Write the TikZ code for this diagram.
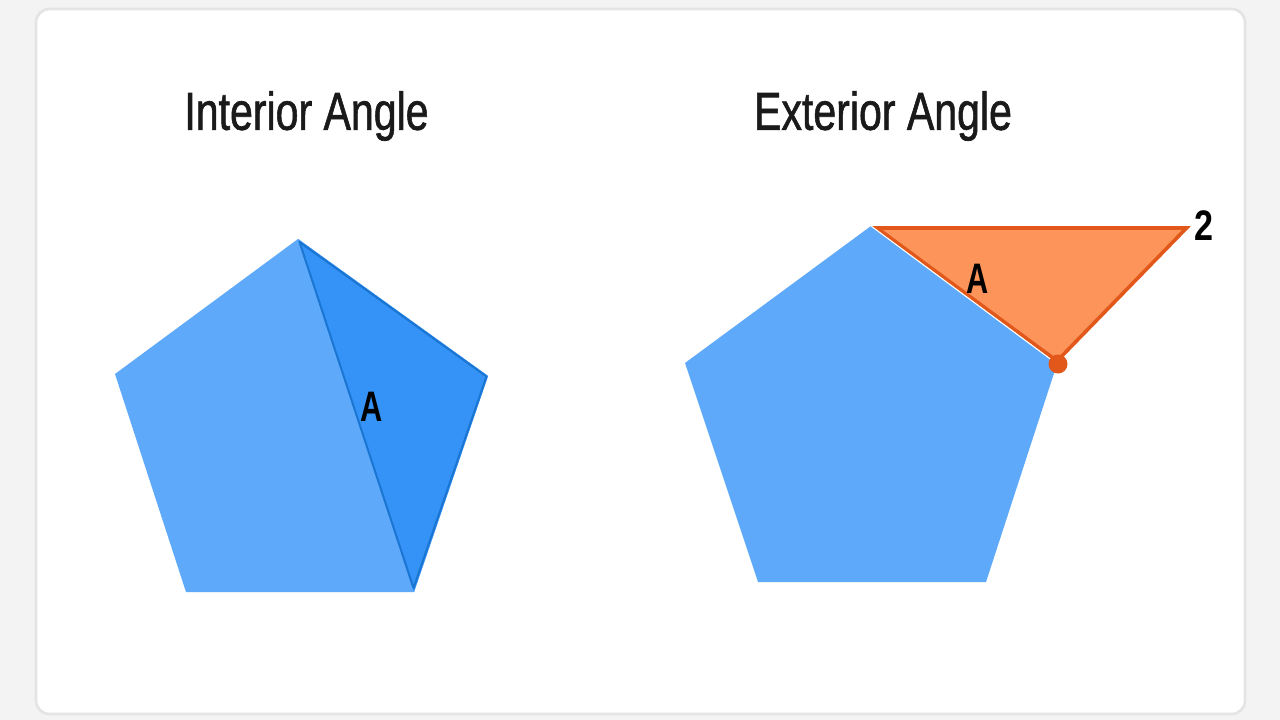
\documentclass[tikz,border=0pt]{standalone}
\usepackage{fontspec}
\usetikzlibrary{calc}
\setmainfont{Liberation Sans}
\definecolor{pageg}{HTML}{F3F3F3}
\definecolor{cardline}{HTML}{E4E4E4}
\definecolor{pentblue}{HTML}{5EA9FA}
\definecolor{deepblue}{HTML}{3593F7}
\definecolor{edgeblue}{HTML}{1A76D2}
\definecolor{orfill}{HTML}{FD9459}
\definecolor{oredge}{HTML}{E2581B}
\definecolor{inkc}{HTML}{1A1A1A}
\tikzset{
  x=0.75pt,y=-0.75pt,
  headline/.style={inner sep=0pt,text=inkc,font=\fontsize{40pt}{44pt}\selectfont\addfontfeature{FakeBold=1.3},xscale=0.77,transform shape},
  tag/.style={inner sep=0pt,text=black,font=\fontsize{32pt}{34pt}\selectfont\bfseries,xscale=0.72,transform shape},
  digit/.style={inner sep=0pt,text=black,font=\fontsize{32pt}{34pt}\selectfont\bfseries,xscale=0.8,transform shape},
  pent/.style={fill=pentblue,draw=none},
  deep/.style={fill=deepblue,draw=none},
  deepedge/.style={draw=edgeblue,line width=1.5pt,line join=round},
  orangetri/.style={fill=orfill,draw=oredge,line width=2.7pt,line join=miter},
  sep/.style={draw=white,line width=0.8pt}
}
\begin{document}
\begin{tikzpicture}
\useasboundingbox (0,0) rectangle (1280,720);
\fill[pageg] (0,0) rectangle (1280,720);
\draw[cardline,line width=2pt,fill=white,rounded corners=10pt] (36,9) rectangle (1245,714);
\node[headline] (t1) at (306.5,116) {Interior Angle};
\node[headline] (t2) at (883,116) {Exterior Angle};
% left pentagon
\coordinate (a1) at (298,239);
\coordinate (a2) at (488,376);
\coordinate (a3) at (414,592);
\coordinate (a4) at (186,592);
\coordinate (a5) at (115,374);
\coordinate (d1) at (299.5,242);
\coordinate (d2) at (486.5,376.5);
\coordinate (d3) at (413.5,588);
\fill[pent] (a1) -- (a2) -- (a3) -- (a4) -- (a5) -- cycle;
\fill[deep] (a1) -- (a2) -- (a3) -- cycle;
\draw[deepedge] (d1) -- (d2) -- (d3) -- cycle;
\node[tag] (la) at (372,407) {A};
% right pentagon
\coordinate (b1) at (871,226);
\coordinate (b2) at (1057,364);
\coordinate (b3) at (986,582);
\coordinate (b4) at (758,582);
\coordinate (b5) at (685,363);
\coordinate (t1a) at (877,228);
\coordinate (t2a) at (1186.5,228);
\coordinate (t3a) at (1057,361);
\fill[pent] (b1) -- (b2) -- (b3) -- (b4) -- (b5) -- cycle;
\draw[orangetri] (t1a) -- (t2a) -- (t3a) -- cycle;
\draw[sep] (b1) -- (b2);
\fill[oredge] (1058,364) circle[radius=9.5];
\node[tag] (ra) at (978,279) {A};
\node[digit] (two) at (1204,226) {2};
\end{tikzpicture}
\end{document}
